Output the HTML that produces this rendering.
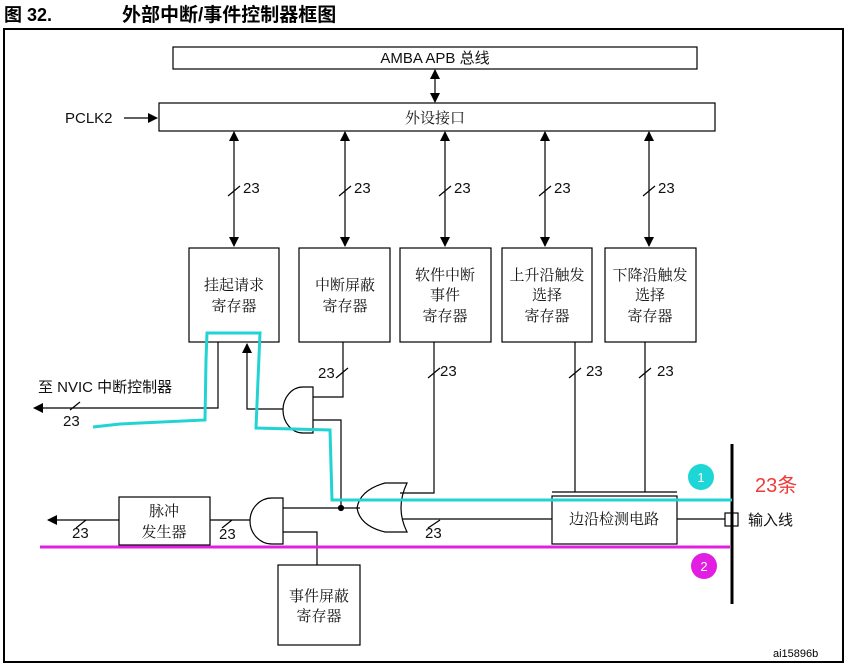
<!DOCTYPE html>
<html><head><meta charset="utf-8"><style>
html,body{margin:0;padding:0;background:#fff;}
svg{display:block;}
.s{font-family:"Liberation Serif","Noto Serif CJK SC",serif;font-size:15px;fill:#111;}
.a{font-family:"Liberation Sans","Noto Sans CJK SC",sans-serif;font-size:15px;fill:#111;}
</style></head><body>
<svg width="849" height="667" viewBox="0 0 849 667" xmlns="http://www.w3.org/2000/svg">
<defs>
<marker id="ar" markerWidth="10" markerHeight="10" refX="9" refY="5" orient="auto-start-reverse" markerUnits="userSpaceOnUse">
<path d="M0,0 L10,5 L0,10 z" fill="#000"/></marker>
</defs>
<text x="4" y="21" font-family="Liberation Sans,Noto Sans CJK SC,sans-serif" font-weight="bold" font-size="18">图 32.</text>
<text x="122" y="21" font-family="Liberation Sans,Noto Sans CJK SC,sans-serif" font-weight="bold" font-size="19">外部中断/事件控制器框图</text>
<rect x="4" y="29" width="839" height="633" fill="none" stroke="#000" stroke-width="2"/>
<g stroke="#000" stroke-width="1.2" fill="none">
<rect x="173" y="47" width="524" height="22"/>
<rect x="159" y="103" width="556" height="28"/>
<line x1="124" y1="118" x2="157" y2="118" marker-end="url(#ar)"/>
<line x1="435" y1="70" x2="435" y2="102" marker-start="url(#ar)" marker-end="url(#ar)"/>
<line x1="234" y1="132" x2="234" y2="246" marker-start="url(#ar)" marker-end="url(#ar)"/>
<line x1="345" y1="132" x2="345" y2="246" marker-start="url(#ar)" marker-end="url(#ar)"/>
<line x1="445" y1="132" x2="445" y2="246" marker-start="url(#ar)" marker-end="url(#ar)"/>
<line x1="545" y1="132" x2="545" y2="246" marker-start="url(#ar)" marker-end="url(#ar)"/>
<line x1="649" y1="132" x2="649" y2="246" marker-start="url(#ar)" marker-end="url(#ar)"/>
<path d="M228,196 L240,186 M339,196 L351,186 M439,196 L451,186 M539,196 L551,186 M643,196 L655,186"/>
<rect x="189" y="248" width="90" height="94"/>
<rect x="299" y="248" width="91" height="94"/>
<rect x="400" y="248" width="91" height="94"/>
<rect x="502" y="248" width="90" height="94"/>
<rect x="605" y="248" width="91" height="94"/>
<polyline points="218,342 218,408 34,408" marker-end="url(#ar)"/>
<path d="M70,410 L80,402"/>
<path d="M313,387 L303,387 A20,23 0 0 0 303,433 L313,433 Z"/>
<polyline points="283,409 247,409 247,344" marker-end="url(#ar)"/>
<polyline points="343,342 343,397 313,397"/>
<path d="M336,378 L348,368"/>
<polyline points="313,420 341,420 341,508"/>
<circle cx="341" cy="508" r="2.5" fill="#000"/>
<path d="M407,483 L385,483 Q360,490 357,508 Q360,526 385,532 L407,532 Q395,508 407,483 Z"/>
<polyline points="400,493 434,493 434,342"/>
<path d="M428,378 L440,368"/>
<line x1="403" y1="519" x2="552" y2="519"/>
<path d="M428,528 L440,520"/>
<line x1="283" y1="508" x2="360" y2="508"/>
<rect x="552" y="496" width="125" height="48"/>
<line x1="552" y1="492" x2="677" y2="492"/>
<line x1="575" y1="342" x2="575" y2="492"/>
<line x1="645" y1="342" x2="645" y2="492"/>
<path d="M569,378 L581,368 M639,378 L651,368"/>
<line x1="677" y1="519" x2="725" y2="519"/>
<rect x="725" y="513" width="13" height="13" fill="#fff"/>
<path d="M283,498 L272,498 A22,23 0 0 0 272,544 L283,544 Z"/>
<polyline points="283,532 317,532 317,565"/>
<line x1="250" y1="520" x2="210" y2="520"/>
<path d="M222,528 L232,520"/>
<rect x="119" y="497" width="91" height="48"/>
<line x1="119" y1="520" x2="48" y2="520" marker-end="url(#ar)"/>
<path d="M76,528 L86,520"/>
<rect x="278" y="565" width="82" height="80"/>
</g>
<line x1="732" y1="444" x2="732" y2="604" stroke="#000" stroke-width="3"/>
<polyline points="93,427 120,424 205,420 206,360 207,333 260,333 258,380 256,428 330,430 332,500 732,500" fill="none" stroke="#22d3d3" stroke-width="3"/>
<line x1="40" y1="547" x2="730" y2="547" stroke="#e020e0" stroke-width="3"/>
<circle cx="701" cy="477" r="13" fill="#1ed6d6"/><text x="701" y="482" font-family="Liberation Sans,sans-serif" font-size="13" fill="#fff" text-anchor="middle">1</text>
<circle cx="704" cy="566" r="13" fill="#e31ee3"/><text x="704" y="571" font-family="Liberation Sans,sans-serif" font-size="13" fill="#fff" text-anchor="middle">2</text>
<text x="755" y="492" font-family="Liberation Sans,Noto Sans CJK SC,sans-serif" font-size="20" fill="#f03a3a">23条</text>
<text class="a" x="435" y="63" text-anchor="middle">AMBA APB 总线</text>
<text class="s" x="435" y="123" text-anchor="middle">外设接口</text>
<text class="a" x="65" y="123">PCLK2</text>
<g class="a"><text x="243" y="193">23</text><text x="354" y="193">23</text><text x="454" y="193">23</text><text x="554" y="193">23</text><text x="658" y="193">23</text>
<text x="318" y="378">23</text><text x="440" y="376">23</text><text x="586" y="376">23</text><text x="657" y="376">23</text>
<text x="63" y="426">23</text><text x="425" y="538">23</text><text x="219" y="539">23</text><text x="72" y="538">23</text>
<text x="38" y="392">至 NVIC 中断控制器</text>
<text x="748" y="525">输入线</text></g>
<g class="s" text-anchor="middle">
<text x="234" y="290">挂起请求</text><text x="234" y="311">寄存器</text>
<text x="345" y="290">中断屏蔽</text><text x="345" y="311">寄存器</text>
<text x="445" y="280">软件中断</text><text x="445" y="300">事件</text><text x="445" y="321">寄存器</text>
<text x="547" y="280">上升沿触发</text><text x="547" y="300">选择</text><text x="547" y="321">寄存器</text>
<text x="650" y="280">下降沿触发</text><text x="650" y="300">选择</text><text x="650" y="321">寄存器</text>
<text x="614" y="524">边沿检测电路</text>
<text x="164" y="516">脉冲</text><text x="164" y="537">发生器</text>
<text x="319" y="601">事件屏蔽</text><text x="319" y="621">寄存器</text>
</g>
<text x="773" y="657" font-family="Liberation Sans,sans-serif" font-size="11">ai15896b</text>
</svg>
</body></html>
